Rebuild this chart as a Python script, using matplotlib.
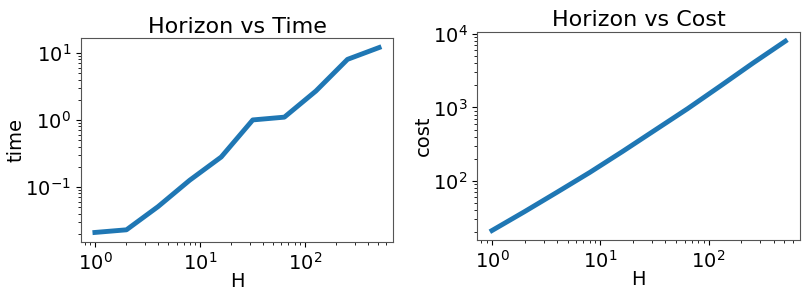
import matplotlib
matplotlib.use("Agg")
import matplotlib.pyplot as plt

# horizon lengths
H = [1, 2, 4, 8, 16, 32, 64, 128, 256, 512]
# solve time per horizon
time_vals = [0.021, 0.023, 0.051, 0.126, 0.28, 1.0, 1.1, 2.7, 8.0, 12.0]
# total cost per horizon
cost_vals = [21, 38, 70, 130, 250, 490, 960, 1950, 4000, 8000]

W, Hpx = 811, 297
fig = plt.figure(figsize=(W / 100, Hpx / 100), dpi=100)

def box(l, t, r, b):
    return [l / W, 1 - b / Hpx, (r - l) / W, (b - t) / Hpx]

ax1 = fig.add_axes(box(80.7, 38.3, 393.3, 241.7))
ax2 = fig.add_axes(box(477.3, 31.7, 800, 240))

for ax, y, title, ylab in [(ax1, time_vals, "Horizon vs Time", "time"),
                           (ax2, cost_vals, "Horizon vs Cost", "cost")]:
    ax.loglog(H, y, color="#1f77b4", lw=3.5)
    ax.set_title(title, fontsize=16, pad=4)
    ax.set_xlabel("H", fontsize=14, labelpad=-1)
    ax.set_ylabel(ylab, fontsize=14, labelpad=0)
    ax.tick_params(axis="both", which="major", labelsize=14)
    for s in ax.spines.values():
        s.set_color("#555555")

fig.savefig("out.png", dpi=100)
